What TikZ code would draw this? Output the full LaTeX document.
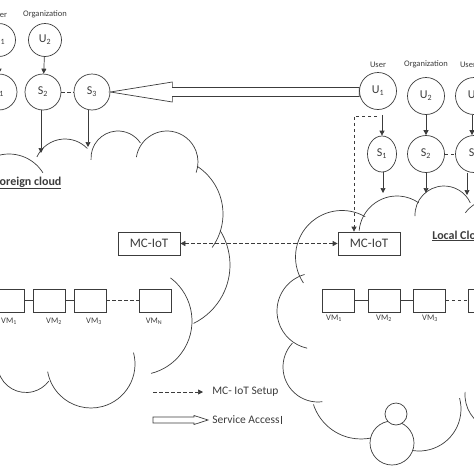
\documentclass[tikz,border=0pt]{standalone}
\usepackage{fontspec}
\setmainfont{Carlito}
\usetikzlibrary{arrows.meta,shapes.geometric,calc}
\definecolor{ink}{HTML}{3C3C3C}
\newcommand\cloudarc[4]{\draw (#1) ++(#2:#4) arc[start angle=#2,end angle=#3,radius=#4];}
\begin{document}
\begin{tikzpicture}[x=1pt,y=-1pt,color=ink,line width=0.7pt,
  ucirc/.style={circle,draw,fill=white,inner sep=0pt,minimum size=33pt,font=\fontsize{12}{12}\selectfont},
  scirc/.style={circle,draw,fill=white,inner sep=0pt,minimum size=36pt,font=\fontsize{12}{12}\selectfont},
  rcirc/.style={circle,draw,fill=white,inner sep=0pt,minimum size=37pt,font=\fontsize{12}{12}\selectfont},
  lbl/.style={font=\fontsize{8.5}{10}\selectfont,inner sep=1pt},
  mcbox/.style={draw,fill=white,minimum width=62pt,minimum height=23pt,inner sep=0pt,font=\fontsize{13}{13}\selectfont},
  vmbox/.style={draw,fill=white,minimum width=32pt,minimum height=23pt,inner sep=0pt},
  vmlbl/.style={font=\fontsize{8.5}{10}\selectfont,inner sep=0pt},
  arr/.style={-{Triangle[length=5pt,width=5pt]}},
  dsh/.style={dash pattern=on 3.5pt off 2.5pt},
  title/.style={font=\fontsize{12}{13}\selectfont\bfseries,inner sep=0pt,anchor=west},
  legend/.style={font=\fontsize{11.5}{12}\selectfont,inner sep=0pt,anchor=west}
]
\useasboundingbox (0,0) rectangle (474,474);
\clip (0,0) rectangle (474,474);

% ---------- foreign cloud outline ----------
\cloudarc{9,194}{-200}{-32}{40}
\cloudarc{65,170}{-155}{-44}{31}
\cloudarc{118,158}{-184}{-34}{27}
\cloudarc{167,162}{-171}{20}{31}
\cloudarc{166,214}{-57}{36}{57}
\cloudarc{165,265}{-32}{64}{65}
\cloudarc{138,321}{-53}{76}{54}
\cloudarc{91,364}{-15}{170}{44}
\cloudarc{26,364}{165}{37}{28.5}

% ---------- local cloud outline ----------
\cloudarc{315,311}{254}{102}{38}
\cloudarc{342,257}{146}{300}{46.5}
\cloudarc{397,234}{185}{305}{38}
\cloudarc{444,215}{178}{335}{29}
\cloudarc{490,230}{215}{300}{30}
\cloudarc{318,367}{223}{83}{35}
\cloudarc{361,389}{162}{50}{50}
\cloudarc{419,409}{120}{-15}{42}
\cloudarc{500,395}{185}{110}{35}
\draw[fill=white] (392,443) circle[radius=22];
\draw[fill=white] (396,414) circle[radius=11];

% ---------- left users / services ----------
\node[ucirc,label={[lbl,yshift=4pt]above:User}] (u1l) at (-1,40) {U\textsubscript{1}};
\node[ucirc,label={[lbl,yshift=4pt]above:Organization}] (u2l) at (45,40) {U\textsubscript{2}};
\node[scirc] (s1l) at (-1,92) {S\textsubscript{1}};
\node[scirc] (s2l) at (43,92) {S\textsubscript{2}};
\node[scirc] (s3l) at (92,92) {S\textsubscript{3}};
\draw[arr] (u1l) -- (s1l);
\draw[arr] (u2l) -- (s2l);
\draw[dsh] (s2l) -- (s3l);
\coordinate (c2l) at (41,153);
\coordinate (c3l) at (88,147);
\draw[arr] (s2l.south -| c2l) -- (c2l);
\draw[arr] (s3l.south -| c3l) -- (c3l);

% ---------- right users / services ----------
\node[rcirc,label={[lbl,yshift=3pt]above:User}] (u1r) at (378,91) {U\textsubscript{1}};
\node[rcirc,label={[lbl,yshift=8pt]above:Organization}] (u2r) at (426,96) {U\textsubscript{2}};
\node[rcirc,label={[lbl,yshift=8pt,xshift=-6pt]above:User}] (u3r) at (474,96) {U\textsubscript{3}};
\node[ellipse,draw,fill=white,inner sep=0pt,minimum width=29pt,minimum height=36pt,font=\fontsize{12}{12}\selectfont] (s1r) at (382,154) {S\textsubscript{1}};
\node[rcirc] (s2r) at (426,154) {S\textsubscript{2}};
\node[rcirc] (s3r) at (474,154) {S\textsubscript{3}};
\draw[arr,shorten <=5pt] (s1r.north |- u1r.south) -- (s1r.north);
\draw[arr] (u2r) -- (s2r);
\draw[arr] (u3r.south -| 472,0) -- (s3r.north -| 472,0);
\draw[dsh] (s2r) -- (s3r);
\coordinate (c1r) at (383,193);
\coordinate (c2r) at (426,193);
\coordinate (c3r) at (467,195);
\draw[arr] (s1r.south -| c1r) -- (c1r);
\draw[arr] (s2r.south -| c2r) -- (c2r);
\draw[arr] (s3r.south -| c3r) -- (c3r);

% ---------- service access arrow ----------
\draw let \p1=(s3l.east), \p2=(u1r.west) in
  (\p1) -- ($(\p1)+(62,-10)$) -- ($(\p1)+(62,-4.5)$) -- (\x2,\y1+4.5pt)
  -- (\x2,\y1-4.5pt) -- ($(\p1)+(62,4.5)$) -- ($(\p1)+(62,10)$) -- cycle;

% ---------- MC-IoT ----------
\node[mcbox] (mcl) at (149,243.5) {MC-IoT};
\node[mcbox] (mcr) at (369,243.5) {MC-IoT};
\draw[dsh,{Triangle[length=5pt,width=5pt]}-{Triangle[length=5pt,width=5pt]}] (mcl.east) -- (mcr.west);
\draw[dsh,arr] ($(u1r.south)+(-1,6)$) -| ([xshift=-15pt]mcr.north);

% ---------- titles ----------
\node[title] (fc) at (-6,183) {\underline{Foreign cloud}};
\node[title] (lc) at (432,236) {\underline{Local Cloud}};

% ---------- VMs foreign ----------
\node[vmbox] (vl1) at (8,300.5) {};
\node[vmbox] (vl2) at (49.5,300.5) {};
\node[vmbox] (vl3) at (90,300.5) {};
\node[vmbox] (vln) at (155,300.5) {};
\draw (vl1) -- (vl2);
\draw (vl2) -- (vl3);
\draw[dsh] (vl3) -- (vln);
\node[vmlbl] (tl1) at (9,321) {VM\textsubscript{1}};
\node[vmlbl] (tl2) at (54,321) {VM\textsubscript{2}};
\node[vmlbl] (tl3) at (94,321) {VM\textsubscript{3}};
\node[vmlbl] (tln) at (154,321) {VM\textsubscript{N}};

% ---------- VMs local ----------
\node[vmbox] (vr1) at (338.5,300.5) {};
\node[vmbox] (vr2) at (384,300.5) {};
\node[vmbox] (vr3) at (429.5,300.5) {};
\node[vmbox] (vrn) at (484,300.5) {};
\draw (vr1) -- (vr2);
\draw (vr2) -- (vr3);
\draw[dsh] (vr3) -- (vrn);
\node[vmlbl] (tr1) at (334,318) {VM\textsubscript{1}};
\node[vmlbl] (tr2) at (384,318) {VM\textsubscript{2}};
\node[vmlbl] (tr3) at (430,318) {VM\textsubscript{3}};
\node[vmlbl] (trn) at (484,318) {VM\textsubscript{N}};

% ---------- legend ----------
\coordinate (ld1) at (153,392);
\coordinate (ld2) at (203,392);
\draw[dsh,arr] (ld1) -- (ld2);
\node[legend] (lt1) at (212,392) {MC- IoT Setup};
\coordinate (la1) at (153,420);
\coordinate (la2) at (208,420);
\draw let \p1=(la1), \p2=(la2) in
  (\p2) -- ($(\p2)+(-14,-4.5)$) -- ($(\p2)+(-14,-3)$) -- ($(\p1)+(0,-3)$)
  -- ($(\p1)+(0,3)$) -- ($(\p2)+(-14,3)$) -- ($(\p2)+(-14,4.5)$) -- cycle;
\node[legend] (lt2) at (212,420) {Service Access};
\draw[line width=0.6pt] ([xshift=1pt]lt2.north east) -- ([xshift=1pt]lt2.south east);
\end{tikzpicture}
\end{document}
